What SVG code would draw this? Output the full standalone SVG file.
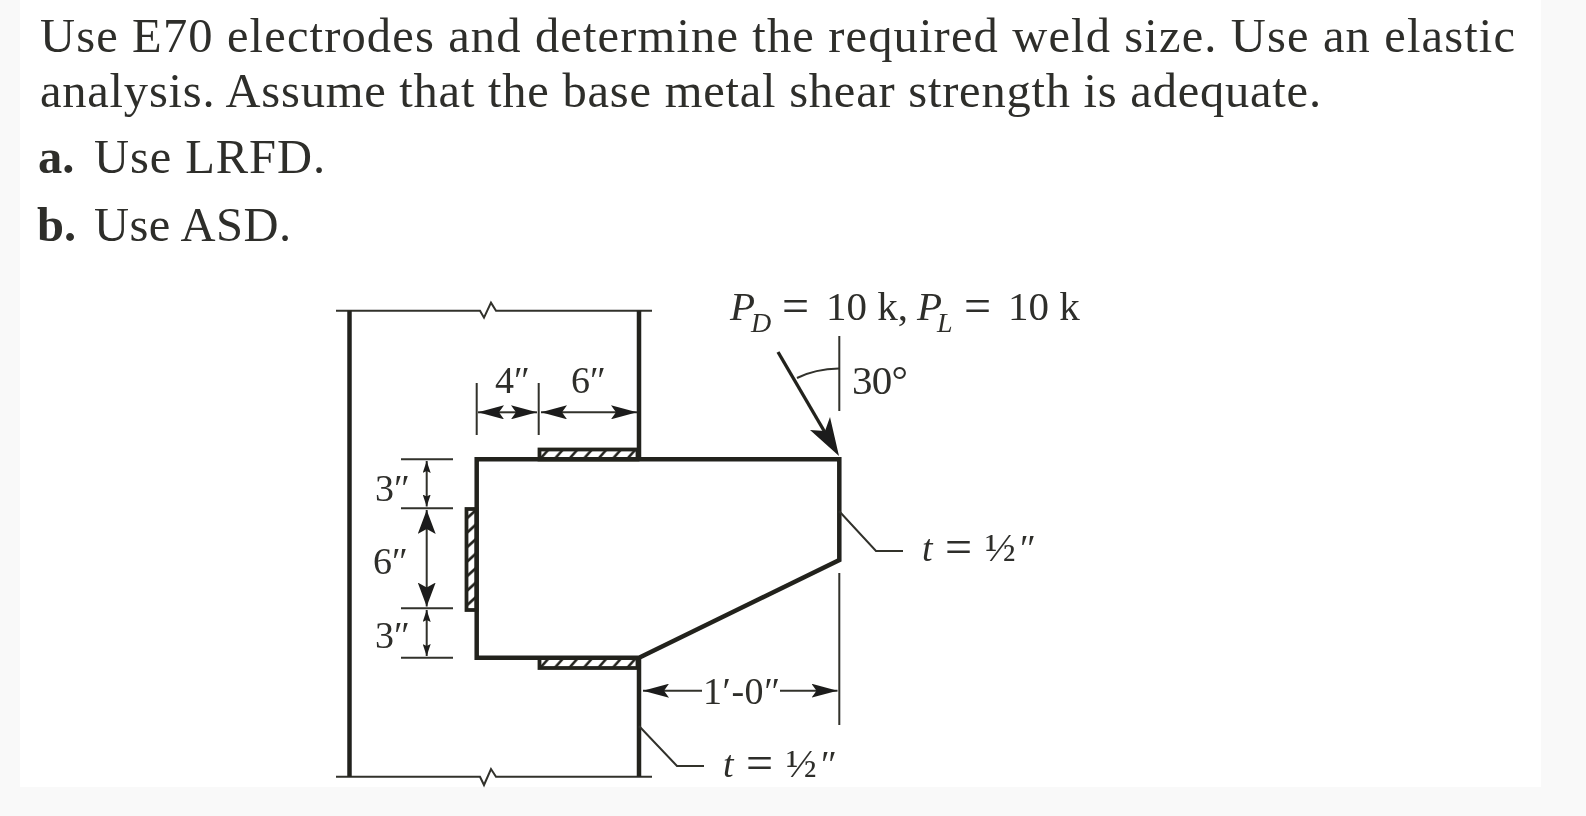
<svg xmlns="http://www.w3.org/2000/svg" width="1586" height="816" viewBox="0 0 1586 816">
<style>
text{font-family:"Liberation Serif","Times New Roman",serif;fill:#2f2f2c}
.t{font-size:48.5px}
.d{font-size:38px}
.f{font-size:41px}
.e{font-size:48px}
.s{font-size:28px;font-style:italic}
.i{font-style:italic}
.b{font-weight:bold}
.thick{fill:none;stroke:#24241f;stroke-width:4.5;stroke-linejoin:miter}
.thin{fill:none;stroke:#30302c;stroke-width:2}
.mid{fill:none;stroke:#30302c;stroke-width:2}
.weld{fill:url(#hatchH);stroke:#24241f;stroke-width:3.8}
.weldV{fill:url(#hatchV);stroke:#24241f;stroke-width:3.8}
.head{fill:#1e1e1a}
</style>
<defs>
<pattern id="hatchH" patternUnits="userSpaceOnUse" width="14.5" height="11" x="538" y="448">
<rect width="14.5" height="11" fill="#fff"/>
<path d="M2 11L12 0" stroke="#24241f" stroke-width="2.6"/>
</pattern>
<pattern id="hatchV" patternUnits="userSpaceOnUse" width="11" height="14.5" x="465" y="508">
<rect width="11" height="14.5" fill="#fff"/>
<path d="M0 12L11 2" stroke="#24241f" stroke-width="2.6"/>
</pattern>
<filter id="soft" x="-2%" y="-2%" width="104%" height="104%"><feGaussianBlur stdDeviation="0.55"/></filter>
<marker id="big" viewBox="0 0 26 14" refX="26" refY="7" markerWidth="26" markerHeight="14" markerUnits="userSpaceOnUse" orient="auto-start-reverse"><path class="head" d="M0 0L26 7L0 14L5 7Z"/></marker>
<marker id="bigv" viewBox="0 0 24 18" refX="24" refY="9" markerWidth="24" markerHeight="18" markerUnits="userSpaceOnUse" orient="auto-start-reverse"><path class="head" d="M0 0L24 9L0 18L5 9Z"/></marker>
<marker id="small" viewBox="0 0 12 8" refX="12" refY="4" markerWidth="12" markerHeight="8" markerUnits="userSpaceOnUse" orient="auto-start-reverse"><path class="head" d="M0 0L12 4L0 8L2 4Z"/></marker>
</defs>
<rect width="1586" height="816" fill="#f9f9f9"/>
<rect x="20" y="0" width="1521" height="787" fill="#fff"/>
<g filter="url(#soft)">
<g id="problem-text">
<text class="t" x="40" y="52" textLength="1475" lengthAdjust="spacing">Use E70 electrodes and determine the required weld size. Use an elastic</text>
<text class="t" x="40" y="107" textLength="1281" lengthAdjust="spacing">analysis. Assume that the base metal shear strength is adequate.</text>
<text class="t" x="38" y="173"><tspan class="b">a.</tspan></text>
<text class="t" x="94" y="173" textLength="231" lengthAdjust="spacing">Use LRFD.</text>
<text class="t" x="37" y="241"><tspan class="b">b.</tspan></text>
<text class="t" x="94" y="241" textLength="197" lengthAdjust="spacing">Use ASD.</text>
</g>
<g id="column">
<path class="thin" d="M336 310.7H480L484 317.7L491 302.7L496 310.7H652"/>
<path class="thin" d="M336 776.7H480L484 785L491 769L496 776.7H652"/>
<path class="thick" d="M349.5 310.7V776.7"/>
<path class="thick" d="M639 310.7V459"/>
<path class="thick" d="M639 658V776.7"/>
</g>
<g id="welds">
<rect class="weld" x="539.5" y="449.5" width="98" height="10"/>
<rect class="weld" x="539.5" y="658" width="98" height="10"/>
<rect class="weldV" x="466.5" y="509" width="10" height="101"/>
</g>
<g id="plate">
<path class="thick" d="M476.7 459.3H839.3V560L639 657.7H476.7Z"/>
</g>
<g id="connectors">
<path class="mid" d="M476.7 383V435M538.7 383V435"/>
<path class="thin" d="M478 412.3H507" marker-start="url(#big)"/>
<path class="thin" d="M507 412.3H537" marker-end="url(#big)"/>
<path class="thin" d="M541 412.3H637" marker-start="url(#big)" marker-end="url(#big)"/>
<path class="mid" d="M401 459.3H453M401 508.3H453M401 608.3H453M401 657.7H453"/>
<path class="thin" d="M426.7 461V506.5" marker-start="url(#small)" marker-end="url(#small)"/>
<path class="thin" d="M426.7 510V606.5" marker-start="url(#bigv)" marker-end="url(#bigv)"/>
<path class="thin" d="M426.7 610V656" marker-start="url(#small)" marker-end="url(#small)"/>
<path class="mid" d="M839.3 336V411"/>
<path class="thin" d="M797 378Q815 369 839 368.5"/>
<path d="M778 352L830 441" fill="none" stroke="#24241f" stroke-width="3.4"/>
<path class="head" d="M839 456L810 430L825 431L830 417Z"/>
<path class="mid" d="M839.3 573V725"/>
<path class="thin" d="M643 690.7H702" marker-start="url(#big)"/>
<path class="thin" d="M780 690.7H837.5" marker-end="url(#big)"/>
<path class="thin" d="M839 511L876 551H903"/>
<path class="thin" d="M639 726L677 766H704"/>
</g>
<g id="labels">
<text class="d" x="495" y="393">4″</text>
<text class="d" x="571" y="393">6″</text>
<text class="d" x="375" y="500.7">3″</text>
<text class="d" x="373" y="574">6″</text>
<text class="d" x="375" y="648">3″</text>
<text class="f"><tspan class="i" x="730" y="320">P</tspan><tspan class="s" x="751" y="332">D</tspan><tspan class="e" x="782" y="322">=</tspan><tspan x="826" y="320">10 k,</tspan><tspan class="i" x="917" y="320">P</tspan><tspan class="s" x="937" y="332">L</tspan><tspan class="e" x="964" y="322">=</tspan><tspan x="1008" y="320">10 k</tspan></text>
<text class="f" x="852" y="394" textLength="56" lengthAdjust="spacing">30°</text>
<text class="d"><tspan class="i" x="922" y="561">t</tspan><tspan class="e" x="945" y="563">=</tspan><tspan class="f" x="985" y="561">½</tspan><tspan x="1020" y="561">″</tspan></text>
<text class="d" x="703" y="704" textLength="77" lengthAdjust="spacing">1′-0″</text>
<text class="d"><tspan class="i" x="723" y="777">t</tspan><tspan class="e" x="746" y="779">=</tspan><tspan class="f" x="786" y="777">½</tspan><tspan x="821" y="777">″</tspan></text>
</g>
</g>
</svg>
